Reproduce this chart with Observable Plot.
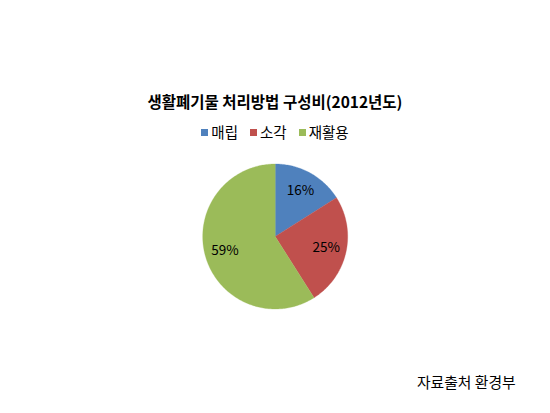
<!DOCTYPE html>
<html><head><meta charset="utf-8">
<script src="https://cdn.jsdelivr.net/npm/d3@7"></script>
<script src="https://cdn.jsdelivr.net/npm/@observablehq/plot@0.6"></script>
<style>
body{margin:0;background:#fff;font-family:"Noto Sans CJK KR","Noto Sans",sans-serif;color:#000;}
#wrap{width:550px;height:413px;overflow:hidden;}
#head{position:relative;height:150px;}
#title{position:absolute;left:0;width:550px;top:90px;text-align:center;font-weight:700;font-size:15.5px;line-height:22px;}
#legend{position:absolute;left:0;width:550px;top:122px;display:flex;justify-content:center;font-size:14.5px;line-height:20px;}
.item{display:flex;align-items:center;margin:0 6px;}
.sw{width:7px;height:7px;margin-right:3px;}
#chart{height:175px;}
#chart svg{display:block;}
#foot{position:relative;height:88px;}
#caption{position:absolute;left:417px;top:47px;font-size:14.8px;line-height:20px;white-space:nowrap;}
</style></head><body>
<div id="wrap">
<div id="head"><div id="title"></div><div id="legend"></div></div>
<div id="chart"></div>
<div id="foot"><div id="caption"></div></div>
</div>
<script>
const title = "생활폐기물 처리방법 구성비(2012년도)";
const categories = ["매립", "소각", "재활용"];
const values = [16, 25, 59];
const colors = ["#4F81BD", "#C0504D", "#9BBB59"];
const caption = "자료출처 환경부";

document.getElementById("title").textContent = title;
document.getElementById("caption").textContent = caption;
const leg = document.getElementById("legend");
categories.forEach((c, i) => {
  const it = document.createElement("div"); it.className = "item";
  const sw = document.createElement("div"); sw.className = "sw"; sw.style.background = colors[i];
  const tx = document.createElement("span"); tx.textContent = c;
  it.appendChild(sw); it.appendChild(tx); leg.appendChild(it);
});

const W = 550, H = 175, cx = 274.7, cy = 86, R = 72.5;
const data = categories.map((c, i) => ({category: c, value: values[i]}));
const total = d3.sum(values);
const arcs = d3.pie().sort(null).value(d => d.value)(data);

// slice outlines (geometry from pie angles)
const outline = [];
arcs.forEach(a => {
  const c = a.data.category;
  outline.push({category: c, x: 0, y: 0});
  const n = Math.max(2, Math.ceil((a.endAngle - a.startAngle) / (Math.PI / 180)));
  for (let k = 0; k <= n; k++) {
    const t = a.startAngle + (a.endAngle - a.startAngle) * k / n;
    outline.push({category: c, x: Math.sin(t), y: Math.cos(t)});
  }
  outline.push({category: c, x: 0, y: 0});
});
const labels = arcs.map(a => {
  const m = (a.startAngle + a.endAngle) / 2;
  return {x: 0.72 * Math.sin(m), y: 0.72 * Math.cos(m), text: Math.round(a.data.value / total * 100) + "%"};
});

const chart = Plot.plot({
  width: W, height: H,
  marginTop: 0, marginRight: 0, marginBottom: 0, marginLeft: 0,
  x: {domain: [-cx / R, (W - cx) / R], axis: null},
  y: {domain: [-(H - cy) / R, cy / R], axis: null},
  color: {domain: categories, range: colors},
  style: {background: "transparent", fontFamily: "'Noto Sans CJK KR', 'Noto Sans', sans-serif"},
  marks: [
    Plot.line(outline, {x: "x", y: "y", z: "category", fill: "category", stroke: "category", strokeWidth: 0.3, curve: "linear"}),
    Plot.text(labels, {x: "x", y: "y", text: "text", fontSize: 13.5, fill: "#000"})
  ]
});
document.getElementById("chart").appendChild(chart);
</script>
</body></html>
